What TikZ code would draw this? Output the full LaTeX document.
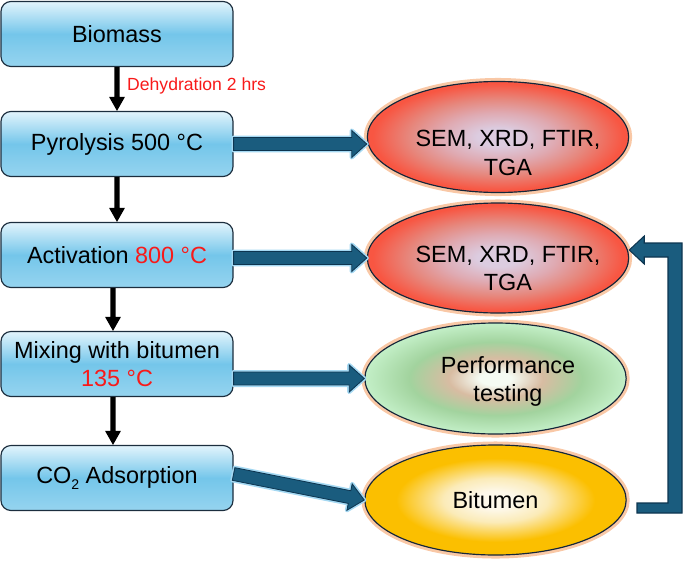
\documentclass[tikz,border=0pt]{standalone}
\usepackage{fontspec}
\setmainfont{Liberation Sans}
\usetikzlibrary{shapes.geometric,calc}
\definecolor{boxtop}{HTML}{E2F4FC}
\definecolor{boxmid}{HTML}{74C6EA}
\definecolor{boxbot}{HTML}{96D4EF}
\definecolor{boxline}{HTML}{1C2E3E}
\definecolor{arrfill}{HTML}{1A5C7E}
\definecolor{arrline}{HTML}{0D3550}
\definecolor{arrglow}{HTML}{A4D8F2}
\definecolor{peach}{HTML}{F9C8A6}
\definecolor{eline}{HTML}{14263A}
\definecolor{redin}{HTML}{DCCCE0}
\definecolor{redpink}{HTML}{DFAAB2}
\definecolor{redmid}{HTML}{E6887E}
\definecolor{redout}{HTML}{F85642}
\definecolor{grin}{HTML}{F5FBF3}
\definecolor{grpeach}{HTML}{D8BCA2}
\definecolor{grdark}{HTML}{A2D39E}
\definecolor{grout}{HTML}{C3EFC7}
\definecolor{yin}{HTML}{FDF8EA}
\definecolor{ymid}{HTML}{FBEBB8}
\definecolor{yout}{HTML}{FBBF00}
\definecolor{txtred}{HTML}{F81A1A}
\pgfdeclareradialshading{redsh}{\pgfpoint{0bp}{0bp}}{color(0bp)=(redin); color(4bp)=(redin); color(11bp)=(redpink); color(17bp)=(redmid); color(24bp)=(redout); color(50bp)=(redout)}
\pgfdeclareradialshading{greensh}{\pgfpoint{0bp}{0bp}}{color(0bp)=(grin); color(3bp)=(grin); color(9bp)=(grpeach); color(16.5bp)=(grdark); color(25bp)=(grout); color(50bp)=(grout)}
\pgfdeclareradialshading{yellowsh}{\pgfpoint{0bp}{0bp}}{color(0bp)=(yin); color(4bp)=(yin); color(10bp)=(ymid); color(19bp)=(yout); color(50bp)=(yout)}
\newcommand\blockarrow[6][]{%
  \path[#1] let \p1=(#2), \p2=(#3),
    \n1={veclen(\x2-\x1,\y2-\y1)},
    \n2={(\x2-\x1)/\n1}, \n3={(\y2-\y1)/\n1},
    \n4={\n1-#6}
  in ({\x1+#4*\n3},{\y1-#4*\n2})
  -- ({\x1+\n4*\n2+#4*\n3},{\y1+\n4*\n3-#4*\n2})
  -- ({\x1+\n4*\n2+#5*\n3},{\y1+\n4*\n3-#5*\n2})
  -- (\x2,\y2)
  -- ({\x1+\n4*\n2-#5*\n3},{\y1+\n4*\n3+#5*\n2})
  -- ({\x1+\n4*\n2-#4*\n3},{\y1+\n4*\n3+#4*\n2})
  -- ({\x1-#4*\n3},{\y1+#4*\n2}) -- cycle;}
\tikzset{
  procbox/.style={rectangle, rounded corners=8.5pt, draw=boxline, line width=1pt,
    top color=boxtop, bottom color=boxbot, middle color=boxmid,
    minimum width=6.96cm, minimum height=1.95cm, inner sep=0pt,
    align=center, font=\fontsize{20}{24}\selectfont},
  oval/.style={ellipse, draw=eline, line width=1pt, inner sep=0pt,
    minimum width=7.84cm, minimum height=3.33cm,
    preaction={draw=peach, line width=6pt}},
  ovaltext/.style={align=center, font=\fontsize{20}{24.5}\selectfont, inner sep=0pt},
  blackarr/.style={fill=black},
  bluearr/.style={fill=arrfill, draw=arrline, line width=0.7pt,
    preaction={draw=arrglow, line width=3.5pt, line join=round}},
  fbarr/.style={fill=arrfill, draw=arrline, line width=0.9pt}
}
\begin{document}
\begin{tikzpicture}[x=0.03cm, y=-0.03cm]
\useasboundingbox (0,0) rectangle (685,563);
% process boxes
\node[procbox] (bio) at (117,34) {Biomass};
\node[procbox] (pyr) at (117,144) {Pyrolysis 500 °C};
\node[procbox] (act) at (117,255) {Activation \textcolor{txtred}{800 °C}};
\node[procbox] (mix) at (117,364) {Mixing with bitumen\\\textcolor{txtred}{135 °C}};
\node[procbox] (co2) at (117,478) {CO\raisebox{-0.55ex}{\fontsize{12}{12}\selectfont 2} Adsorption};
\node[anchor=west, text=txtred, font=\fontsize{15}{18}\selectfont, inner sep=0pt] (dehy) at (127,86) {Dehydration 2 hrs};
% ellipses
\node[oval, shading=redsh] (e1) at (498,137) {};
\node[oval, shading=redsh, minimum height=3.3cm] (e2) at (498,258) {};
\node[oval, shading=greensh] (e3) at (495.5,378.5) {};
\node[oval, shading=yellowsh, minimum height=3.3cm] (e4) at (495.5,500) {};
\node[ovaltext] (t1) at (508,153) {SEM, XRD, FTIR,\\TGA};
\node[ovaltext] (t2) at (508,268.5) {SEM, XRD, FTIR,\\TGA};
\node[ovaltext] (t3) at (508,381.5) {Performance\\testing};
\node[ovaltext] (t4) at (495.5,500) {Bitumen};
% black down arrows
\blockarrow[blackarr]{bio.south}{pyr.north}{2.2}{6.8}{12}
\blockarrow[blackarr]{pyr.south}{act.north}{2.2}{6.8}{12}
\blockarrow[blackarr]{$(act.south)+(-4,0)$}{$(mix.north)+(-4,0)$}{2.2}{6.8}{12}
\blockarrow[blackarr]{$(mix.south)+(-4,0)$}{$(co2.north)+(-4,0)$}{2.2}{6.8}{12}
% blue block arrows
\blockarrow[bluearr]{pyr.east}{pyr.east -| e1.west}{5.5}{11.5}{12.8}
\blockarrow[bluearr]{act.east |- e2.west}{e2.west}{5.5}{11.5}{12.8}
\blockarrow[bluearr]{e3.west -| mix.east}{e3.west}{5.5}{11.5}{12.8}
\blockarrow[bluearr]{$(co2.east)+(0,-4)$}{e4.west}{5.5}{11.5}{12.8}
% feedback arrow
\coordinate (fbs) at (637,508);
\coordinate (fbc) at (675,508);
\coordinate (fbt) at (675,250);
\coordinate (tip) at (e2.east |- fbt);
\path[fbarr] ($(fbs)+(0,-5)$) -- ($(fbc)+(-7,-5)$) -- ($(fbt)+(-7,7)$)
  -- ($(tip)+(15,7)$) -- ($(tip)+(15,14)$) -- (tip) -- ($(tip)+(15,-14)$)
  -- ($(tip)+(15,-7)$) -- ($(fbt)+(7,-7)$) -- ($(fbc)+(7,5)$)
  -- ($(fbs)+(0,5)$) -- cycle;
\end{tikzpicture}
\end{document}
